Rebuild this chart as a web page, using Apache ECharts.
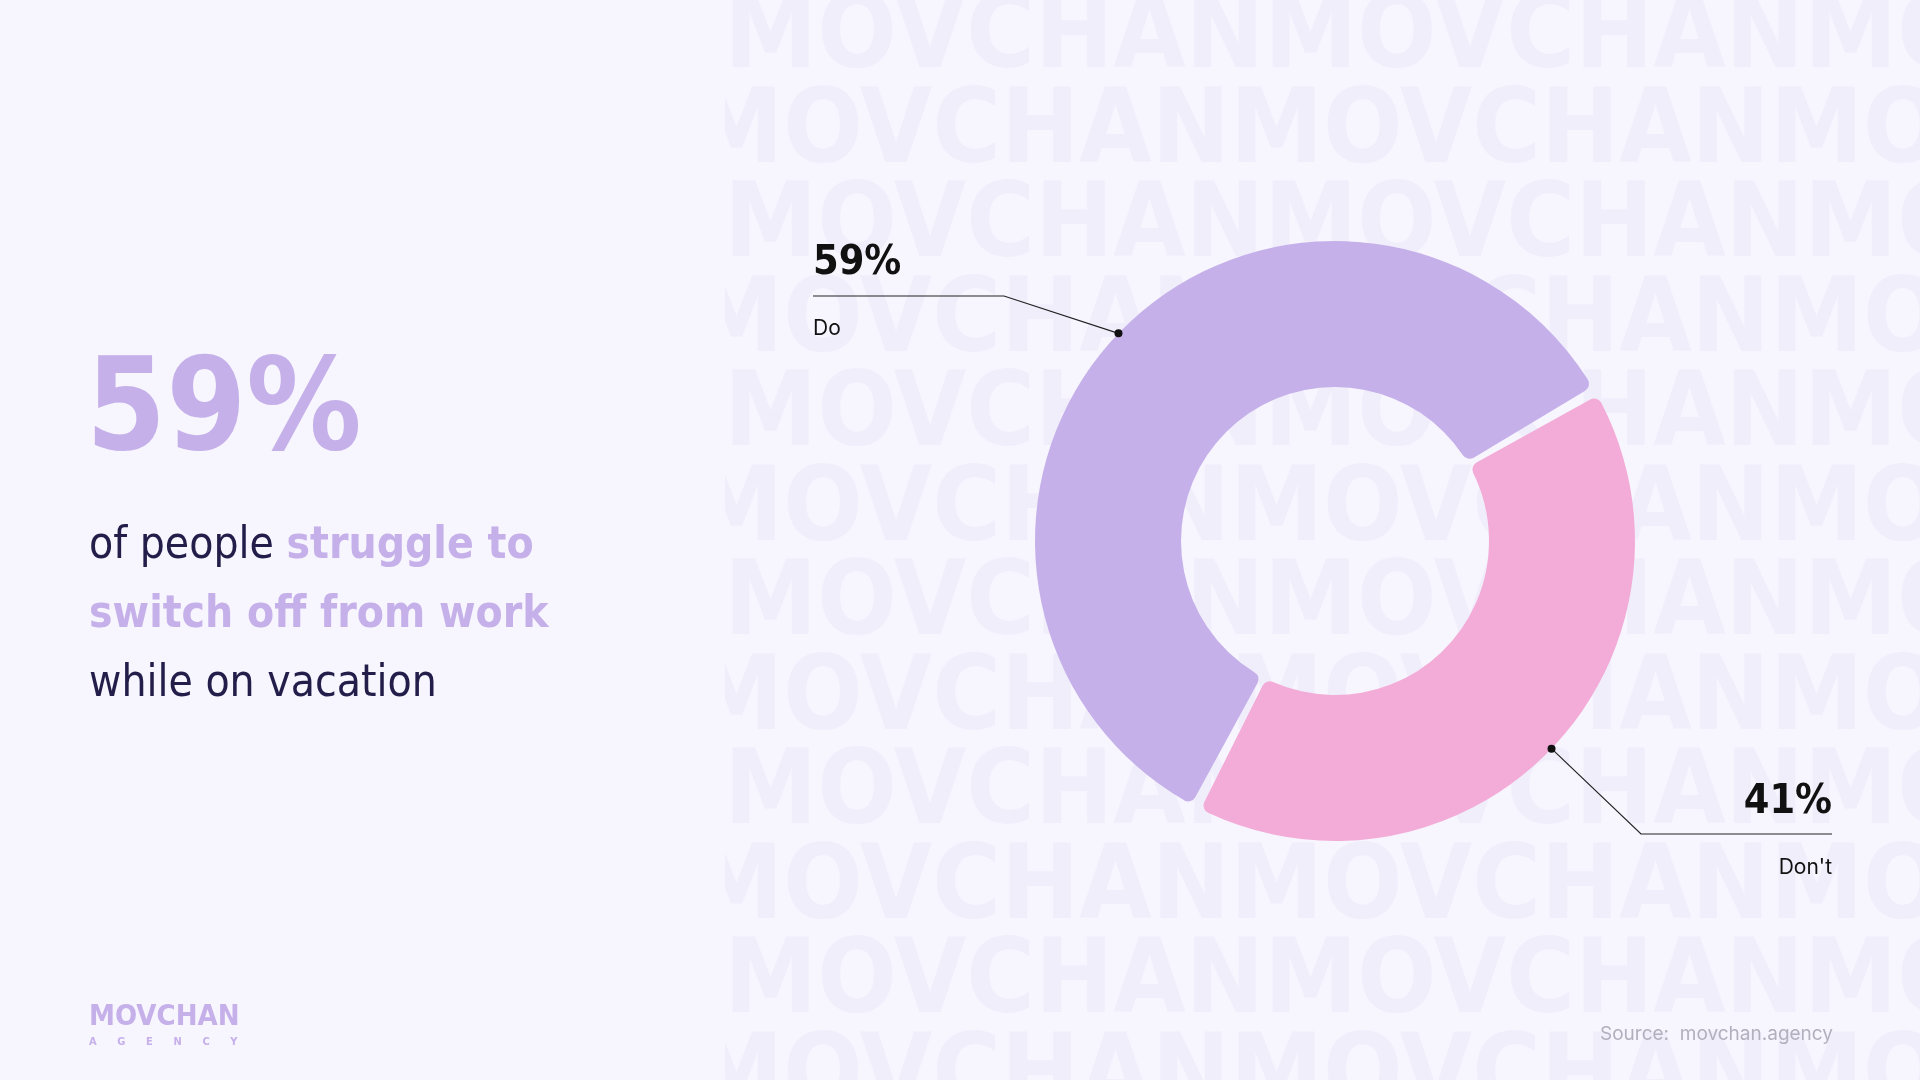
<!DOCTYPE html>
<html>
<head>
<meta charset="utf-8">
<script src="https://cdn.jsdelivr.net/npm/echarts@6/dist/echarts.min.js"></script>
<style>html,body{margin:0;padding:0;background:#f7f5fe}#chart{width:1920px;height:1080px}</style>
</head>
<body>
<div id="chart"></div>
<script>
var categories = ['Do', "Don't"];
var values = [59, 41];
var colors = ['#c5b0ea', '#f3acd8'];

var center = [1335, 541];
var radius = [154, 300];
var startAngle = 242.4;
var condensed = '"DejaVu Sans Condensed", "DejaVu Sans", sans-serif';
var dark = '#231d4a';

var chart = echarts.init(document.getElementById('chart'));

// watermark rows on the right panel
var graphics = [];
for (var r = 0; r < 12; r++) {
    graphics.push({
        type: 'text', z: 0, silent: true,
        left: (r % 2 === 0 ? 724 : 690), top: -12 + r * 94.5,
        style: {
            text: 'MOVCHANMOVCHANMOVCHANMOVCHAN',
            font: 'bold 104px ' + condensed,
            fill: '#f1eefc'
        }
    });
}
// left panel covers the watermark
graphics.push({ type: 'rect', z: 1, shape: { x: 0, y: 0, width: 725, height: 1080 }, style: { fill: '#f7f5fe' } });
graphics.push({
    type: 'text', z: 2, left: 86, top: 352,
    style: { text: '59%', font: 'bold 128px ' + condensed, fill: '#c5b0ea' }
});
graphics.push({
    type: 'text', z: 2, left: 89, top: 525,
    style: {
        text: '{a|of people }{b|struggle to}\n{b|switch off from work}\n{a|while on vacation}',
        rich: {
            a: { font: '44px ' + condensed, fill: dark, lineHeight: 69 },
            b: { font: 'bold 44px ' + condensed, fill: '#c5b0ea', lineHeight: 69 }
        }
    }
});
graphics.push({
    type: 'text', z: 2, left: 89, top: 1003,
    style: { text: 'MOVCHAN', font: 'bold 29px ' + condensed, fill: '#c5b0ea' }
});
graphics.push({
    type: 'text', z: 2, left: 89, top: 1037,
    style: { text: 'A      G      E      N      C      Y', font: 'bold 11px ' + condensed, fill: '#c5b0ea' }
});
graphics.push({
    type: 'text', z: 2, right: 87, top: 1025,
    style: { text: 'Source:  movchan.agency', font: '19px Inter, sans-serif', fill: '#b3b0be' }
});

// anchor dots at the outer edge of each slice
var total = values.reduce(function (a, b) { return a + b; }, 0);
var acc = 0;
values.forEach(function (v) {
    var mid = (startAngle - (acc + v / 2) / total * 360) * Math.PI / 180;
    acc += v;
    graphics.push({
        type: 'circle', z: 20,
        shape: { cx: center[0] + Math.cos(mid) * radius[1], cy: center[1] - Math.sin(mid) * radius[1], r: 4 },
        style: { fill: '#111' }
    });
});

var labelPos = [
    { x: 813, y: 235, lineY: 296, lineEndX: 1004, align: 'left' },
    { x: 1832, y: 774, lineY: 834, lineEndX: 1641, align: 'right' }
];

chart.setOption({
    backgroundColor: '#f7f5fe',
    graphic: graphics,
    series: [{
        type: 'pie',
        z: 10,
        center: center,
        radius: radius,
        startAngle: startAngle,
        padAngle: 2,
        animation: false,
        itemStyle: { borderRadius: 8 },
        data: categories.map(function (c, i) {
            return { name: c, value: values[i], itemStyle: { color: colors[i] } };
        }),
        label: {
            show: true,
            position: 'outside',
            formatter: function (p) { return '{p|' + p.value + '%}\n{n|' + p.name + '}'; },
            rich: {
                p: { fontFamily: condensed, fontWeight: 'bold', fontSize: 41, lineHeight: 56, color: '#111' },
                n: { fontFamily: 'Inter, sans-serif', fontSize: 21, lineHeight: 76, color: '#111' }
            }
        },
        labelLine: { show: true, lineStyle: { color: '#222', width: 1.2 } },
        labelLayout: function (params) {
            var l = labelPos[params.dataIndex];
            var a = params.labelLinePoints[0];
            return {
                x: l.x, y: l.y, align: l.align, verticalAlign: 'top',
                labelLinePoints: [[a[0], a[1]], [l.lineEndX, l.lineY], [l.x, l.lineY]]
            };
        }
    }]
});
</script>
</body>
</html>
